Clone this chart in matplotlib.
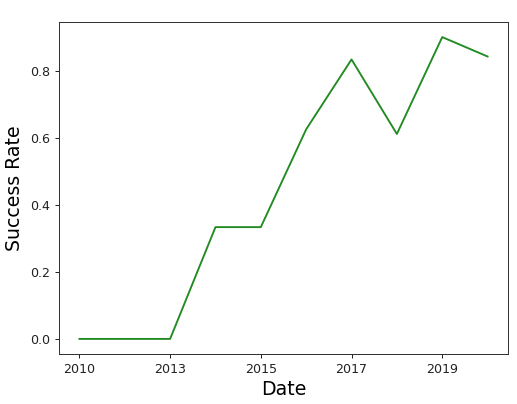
import matplotlib
matplotlib.use("Agg")
import matplotlib.pyplot as plt

# Yearly launch success rate
years = ["2010", "2012", "2013", "2014", "2015", "2016", "2017", "2018", "2019", "2020"]
success_rate = [0.0, 0.0, 0.0, 1/3, 1/3, 0.625, 5/6, 11/18, 0.9, 16/19]

s = 0.907  # scale from the original figure

fig = plt.figure(figsize=(5.17, 4.04), dpi=100)
ax = fig.add_axes([59/517, 1 - 354/404, 449/517, 332/404])

ax.plot(years, success_rate, color="#228B22", linewidth=1.5 * s)

ax.set_xticks(range(0, len(years), 2))
ax.set_xlabel("Date", fontsize=15 * s, labelpad=3)
ax.set_ylabel("Success Rate", fontsize=15 * s)
ax.tick_params(labelsize=10 * s, length=3.5 * s, width=0.8 * s, colors="#222222")
for sp in ax.spines.values():
    sp.set_linewidth(0.8 * s)
    sp.set_color("#333333")

fig.savefig("out.png", dpi=100)
